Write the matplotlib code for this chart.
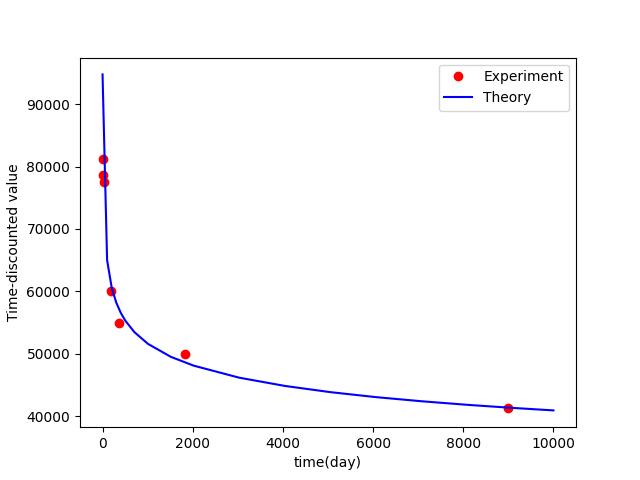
import matplotlib
matplotlib.use("Agg")
import matplotlib.pyplot as plt

exp_t = [1, 7, 30, 180, 365, 1825, 9000]
exp_v = [81200, 78700, 77500, 60000, 55000, 50000, 41300]

th_t = [1, 102, 203, 304, 405, 506, 708, 1011, 1516, 2021, 3031, 4041, 5051, 6061, 7071, 8081, 9091, 10000]
th_v = [94800, 65000, 60640, 58210, 56550, 55290, 53450, 51560, 49490, 48080, 46150, 44830, 43830, 43030, 42370, 41800, 41300, 40900]

fig, ax = plt.subplots(figsize=(6.4, 4.8), dpi=100)
ax.plot(exp_t, exp_v, 'ro', label='Experiment')
ax.plot(th_t, th_v, 'b-', label='Theory')
ax.set_xlabel('time(day)')
ax.set_ylabel('Time-discounted value')
ax.legend(loc='upper right')
fig.savefig('out.png')
